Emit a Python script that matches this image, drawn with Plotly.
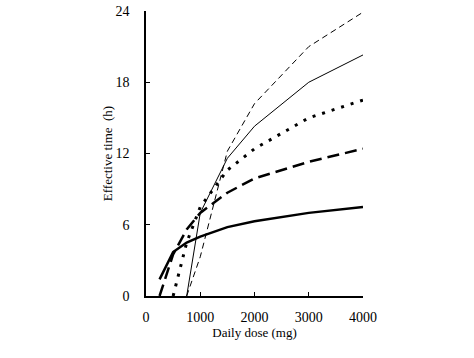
import plotly.graph_objects as go

# Daily dose (mg) for each curve
dose_a = [250, 500, 750, 1000, 1500, 2000, 3000, 4000]
time_a = [1.4, 3.7, 4.5, 5.0, 5.8, 6.3, 7.0, 7.5]          # thick solid

dose_b = [250, 500, 750, 1000, 1500, 2000, 3000, 4000]
time_b = [0.0, 3.5, 5.6, 7.0, 8.7, 9.9, 11.3, 12.4]        # thick long dashed

dose_c = [500, 750, 1000, 1500, 2000, 3000, 4000]
time_c = [0.0, 4.5, 7.5, 10.6, 12.4, 15.0, 16.5]           # thick dotted

dose_d = [750, 1000, 1500, 2000, 3000, 4000]
time_d = [0.0, 7.0, 11.6, 14.3, 18.0, 20.3]                # thin solid

dose_e = [750, 1000, 1500, 2000, 3000, 4000]
time_e = [0.0, 3.3, 12.2, 16.2, 21.0, 23.9]                # thin dashed

x_ticks = [0, 1000, 2000, 3000, 4000]
y_ticks = [0, 6, 12, 18, 24]

fig = go.Figure()
fig.add_trace(go.Scatter(x=dose_a, y=time_a, mode="lines",
                         line=dict(color="black", width=2.5)))
fig.add_trace(go.Scatter(x=dose_b, y=time_b, mode="lines",
                         line=dict(color="black", width=2.5, dash="12px,6px")))
fig.add_trace(go.Scatter(x=dose_c, y=time_c, mode="lines",
                         line=dict(color="black", width=3, dash="3px,7px")))
fig.add_trace(go.Scatter(x=dose_d, y=time_d, mode="lines",
                         line=dict(color="black", width=1)))
fig.add_trace(go.Scatter(x=dose_e, y=time_e, mode="lines",
                         line=dict(color="black", width=1, dash="6px,4px")))

font = dict(family="Liberation Serif, Times New Roman, serif", size=13, color="black")
tickfont = dict(family="Liberation Serif, Times New Roman, serif", size=14, color="black")

fig.update_layout(
    width=474, height=358,
    margin=dict(l=146, r=111, t=11, b=62),
    paper_bgcolor="white", plot_bgcolor="white",
    showlegend=False,
    font=font,
    xaxis=dict(range=[0, 4000], tickvals=x_ticks, ticktext=[str(v) for v in x_ticks],
               showgrid=False, zeroline=False, showline=True, linecolor="black", linewidth=1.5,
               ticks="inside", ticklen=4, tickcolor="black", tickwidth=1,
               ticklabelstandoff=7, automargin=False, tickfont=tickfont,
               title=dict(text="Daily dose (mg)", font=font, standoff=4)),
    yaxis=dict(range=[0, 24], tickvals=y_ticks, ticktext=[str(v) for v in y_ticks],
               showgrid=False, zeroline=False, showline=True, linecolor="black", linewidth=1.5,
               ticks="inside", ticklen=4, tickcolor="black", tickwidth=1,
               ticklabelstandoff=12, automargin=False, tickfont=tickfont,
               title=dict(text="Effective time  (h)", font=font, standoff=0)),
)

fig.write_html("out.html", config={"displayModeBar": False},
               post_script="document.body.style.margin='0';document.body.style.overflow='hidden';")
